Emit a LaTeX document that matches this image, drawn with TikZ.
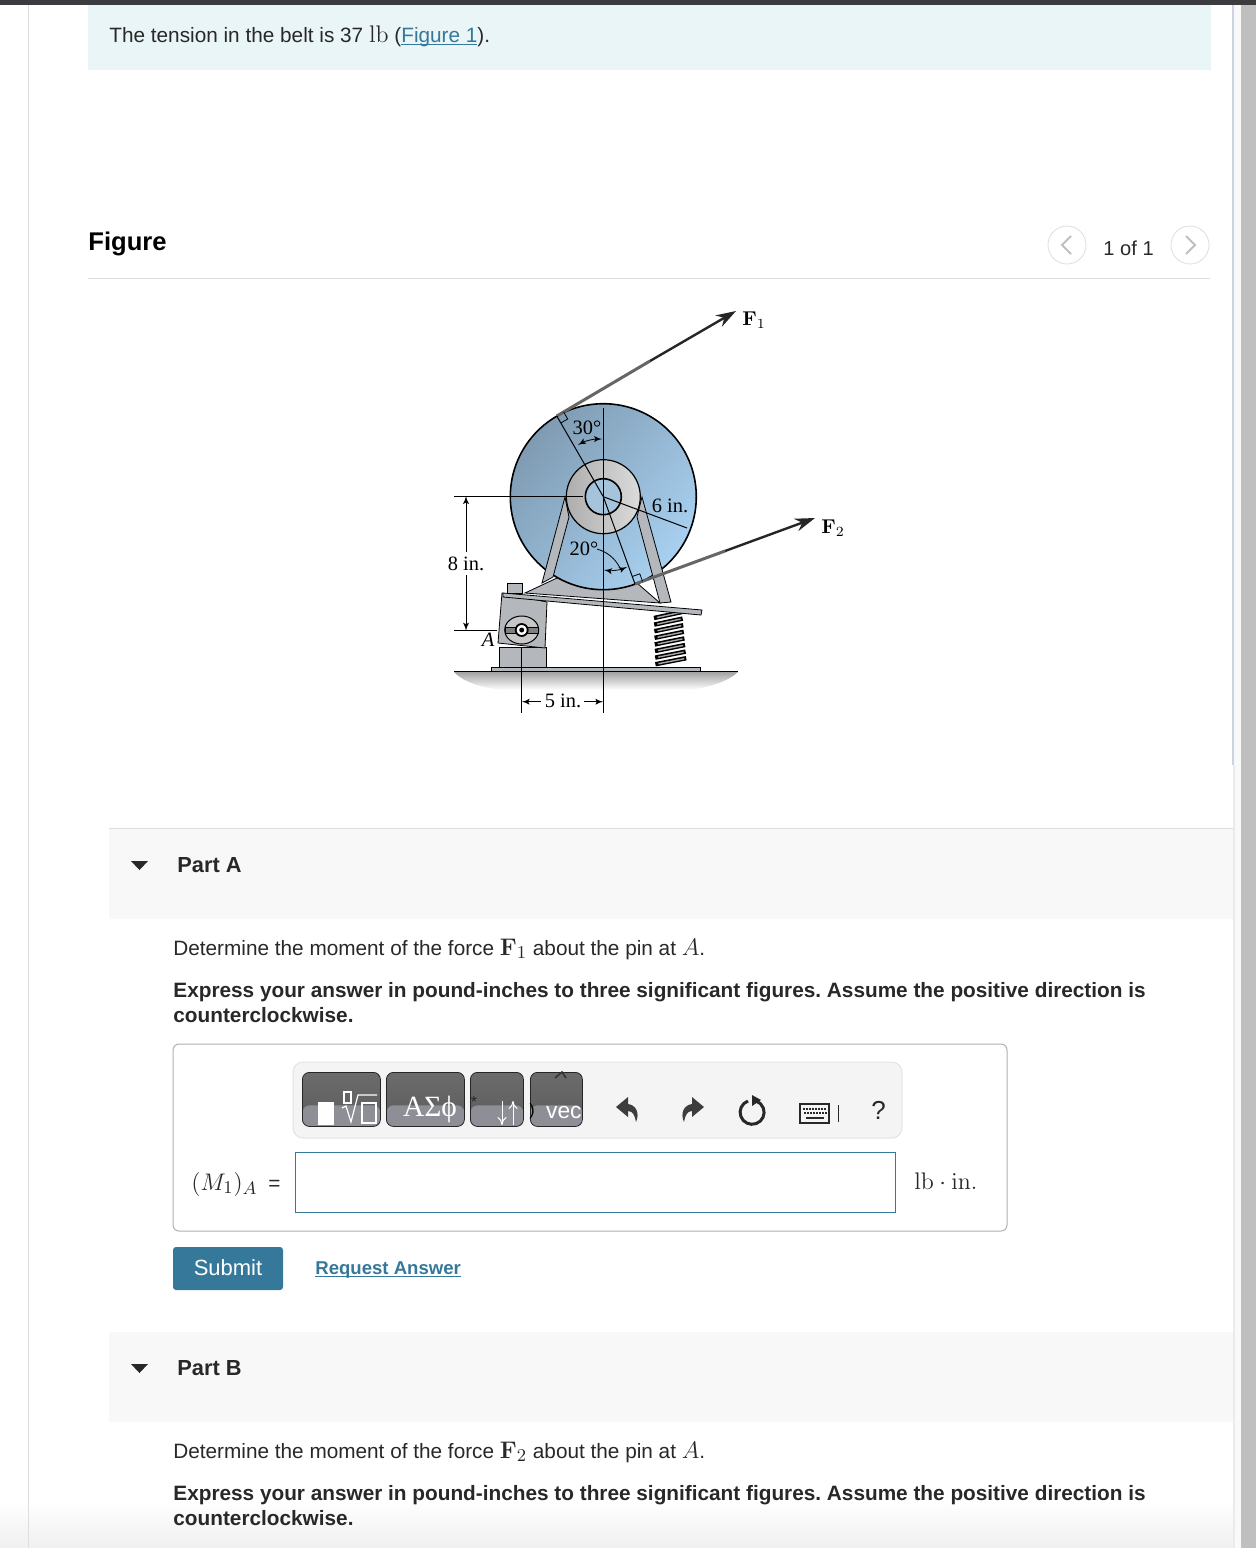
\documentclass[tikz,border=0pt]{standalone}
\usepackage[no-math]{fontspec}
\setmainfont{Liberation Sans}
\newfontfamily\figfont{Liberation Serif}
\usetikzlibrary{arrows, arrows.meta}
\definecolor{linkblue}{HTML}{35789A}
\definecolor{ink}{HTML}{282828}
\definecolor{band}{HTML}{F8F8F8}
\definecolor{rulegray}{HTML}{DEDEDE}
\definecolor{metal}{HTML}{B4B8BC}
\definecolor{belt}{HTML}{666666}
\definecolor{infobox}{HTML}{E9F5F7}
\definecolor{topbar}{HTML}{3C3C40}
\definecolor{strip}{HTML}{F9F9F9}
\definecolor{edgeblue}{HTML}{CBD3E2}
\definecolor{boxline}{HTML}{B0B0B0}
\definecolor{toolbg}{HTML}{F4F4F4}
\definecolor{btnlow}{HTML}{8E8E96}
\definecolor{discdark}{HTML}{7F9BB2}
\definecolor{disclight}{HTML}{A8D0F0}
\definecolor{boreblue}{HTML}{A5C3DB}
\tikzset{
  txt/.style={anchor=base west, inner sep=0pt, text=ink},
  figtxt/.style={inner sep=0pt, text=black},
  toolbtn/.style={
    draw=black!85,
    rounded corners=3.5pt,
    minimum height=27pt,
    inner sep=0pt,
    anchor=north west,
    top color=black!58,
    bottom color=black!64,
    path picture={\fill[btnlow] ([yshift=-16.5pt]path picture bounding box.north west) rectangle (path picture bounding box.south east);}
  },
  part/.style={fill=band, draw=none},
  navbtn/.style={circle, draw=rulegray, fill=white, minimum size=19pt, inner sep=0pt},
  metalpart/.style={draw=black, line width=0.4pt, fill=metal},
  dimline/.style={draw=black, line width=0.4pt},
  forceline/.style={line width=1.5pt, draw=belt},
  forcetip/.style={line width=1.2pt, draw=black!85, -{Stealth[length=10pt, width=6.5pt]}}
}
\tikzstyle{arrow} = [->, > = latex']
\def\body#1{\frenchspacing\fontsize{10.38}{12}\selectfont #1}
\def\bold#1{\frenchspacing\fontsize{10.39}{12}\selectfont\bfseries #1}
\def\fig#1{\figfont\fontsize{10.2}{12}\selectfont #1}
\def\mth#1{{\fontsize{13}{12}\selectfont$#1$}}

\begin{document}
\begin{tikzpicture}[x=0.5pt, y=-0.5pt]
    \useasboundingbox (0,0) rectangle (1256,1548);
    \fill[white] (0,0) rectangle (1256,1548);
    \shade[top color=white, bottom color=black!6] (0,1500) rectangle (1241,1548);
    \fill[black!13] (28,5) rectangle (29,1548);
    \fill[strip] (1234,5) rectangle (1241,1548);
    \fill[black!8] (1233,765) rectangle (1235,1548);
    \fill[edgeblue] (1232,5) rectangle (1234,765);
    \fill[black!25] (1241,5) rectangle (1256,1548);
    \fill[topbar] (0,0) rectangle (1256,5);

    \fill[infobox] (88,5) rectangle (1211,70);
    \node[txt] (intro) at (109,42) {\body{The tension in the belt is 37 \mth{\mathrm{lb}} (\textcolor{linkblue}{\underline{\smash{Figure 1}}}).}};

    \node[txt, text=black] (figtitle) at (88,250) {\fontsize{12.8}{14}\selectfont\bfseries Figure};
    \fill[rulegray] (88,278) rectangle (1210,279);
    \node[navbtn] (prev) at (1067,245) {};
    \node[navbtn] (next) at (1190,245) {};
    \draw[black!25, line width=1pt] (1071,236) -- (1062,245) -- (1071,254);
    \draw[black!25, line width=1pt] (1186,236) -- (1195,245) -- (1186,254);
    \node[txt] (pager) at (1103,255) {\fontsize{10.05}{12}\selectfont 1 of 1};

    \shade[top color=black!36, bottom color=white] (454,672) -- (738,672) .. controls (725,684) and (700,690) .. (680,690) -- (510,690) .. controls (490,690) and (465,684) .. (454,672) -- cycle;
    \draw[metalpart] (499,647) rectangle (546,667);
    \draw[metalpart] (502,593) -- (547,602) -- (545,648) -- (498,643) -- cycle;
    \draw[metalpart] (507,583) rectangle (522,593);
    \draw[metalpart] (491,667) rectangle (700,671.7);
    \draw[black, line width=0.5pt] (454,671.7) -- (738,671.7);
    \draw[metalpart] (525,593) -- (557,578) -- (637,583) -- (660,603) -- cycle;
    \foreach \y in {0,1,...,7}
      \draw[black, line width=2.2pt] (654+\y*0.2,618+\y*6.6) -- (682+\y*0.6,612+\y*6.6);
    \foreach \y in {0,1,...,7}
      \draw[black!35, line width=0.7pt] (657+\y*0.2,617.5+\y*6.6) -- (680+\y*0.6,612.5+\y*6.6);

    \node[circle, draw=black, line width=0.8pt, minimum size=93pt, inner sep=0pt, outer sep=0pt, left color=discdark, right color=disclight, shading angle=50] (disc) at (603.3,496.7) {};

    \coordinate (t1) at (556.8,416);
    \coordinate (t2) at (635,584);
    \coordinate (f1mid) at (650,361);
    \coordinate (f2mid) at (725,551);
    \coordinate (f1tip) at (736,311);
    \coordinate (f2tip) at (815,518);

    \draw[metalpart] (565,497) -- (542,583) -- (553,577) -- (569,517) -- cycle;
    \draw[metalpart] (642,497) -- (671,602) -- (660,603) -- (637,517) -- cycle;
    \draw[metalpart] (503,593) -- (702,610) -- (701,615) -- (503,597) -- cycle;
    \node[circle, draw=black, line width=0.6pt, minimum size=37pt, inner sep=0pt, left color=black!32, right color=black!14] (hub) at (603.3,496.7) {};
    \node[circle, draw=black, line width=0.8pt, minimum size=18pt, inner sep=0pt, fill=boreblue] (bore) at (603.3,496.7) {};

    \draw[black, line width=0.5pt, fill=black!22] (521.7,630) ellipse (17 and 14);
    \draw[black, line width=0.5pt, fill=black!50] (505,627) rectangle (538,633);
    \node[circle, draw=black, line width=0.9pt, fill=white, minimum size=6pt, inner sep=0pt] (pin) at (521.7,630) {};
    \fill[black] (pin) circle (2.5);

    \draw[forceline] (t1) -- (f1mid);
    \draw[forceline] (t2) -- (f2mid);
    \draw[forcetip] (f1mid) -- (f1tip);
    \draw[forcetip] (f2mid) -- (f2tip);
    \draw[black, line width=0.5pt] (603.3,496.7) -- (t1);
    \draw[black, line width=0.5pt] (603.3,496.7) -- (t2);
    \draw[black, line width=0.5pt] (disc.center) -- (687,528);
    \draw[black, line width=0.4pt] (560.8,423) -- (567.7,419) -- (563.7,412);
    \draw[black, line width=0.4pt] (632.3,576.5) -- (639.8,573.8) -- (642.5,581.3);
    \draw[dimline] (603.3,408) -- (603.3,713);
    \draw[dimline] (521.7,647) -- (521.7,713);
    \draw[dimline] (454,496) -- (583,496);
    \draw[dimline] (454,630.7) -- (497,630.7);
    \coordinate (dimtop) at (466,496);
    \coordinate (dimlow) at (466,630.7);
    \draw[dimline, arrow] (466,552) -- (dimtop);
    \draw[dimline, arrow] (466,575) -- (dimlow);
    \draw[dimline, arrow] (541,701.7) -- (521.7,701.7);
    \draw[dimline, arrow] (584,701.7) -- (603.3,701.7);
    \draw[dimline, <->, > = latex'] (578,445) .. controls (585,441) and (593,439) .. (602,439);
    \draw[dimline, <->, > = latex'] (604,570) .. controls (611,571) and (620,570) .. (627,567);
    \draw[dimline] (597,549) .. controls (607,552) and (615,558) .. (620,568);

    \node[figtxt] (lab30) at (587,428) {\fig{30°}};
    \node[figtxt] (lab20) at (584,549) {\fig{20°}};
    \node[figtxt] (lab6) at (670,506) {\fig{6 in.}};
    \node[figtxt, fill=white, inner xsep=1pt] (lab8) at (466,563.5) {\fig{8 in.}};
    \node[figtxt] (lab5) at (563,701) {\fig{5 in.}};
    \node[figtxt] (labA) at (488,640) {\fig{\itshape A}};
    \node[figtxt] (labF1) at (754,320) {\fontsize{10}{12}\selectfont$\mathbf{F}_1$};
    \node[figtxt] (labF2) at (833,528) {\fontsize{10}{12}\selectfont$\mathbf{F}_2$};

    \fill[part] (109,828) rectangle (1233,919);
    \fill[rulegray] (109,828) rectangle (1233,829);
    \fill[ink] (131,861) -- (148,861) -- (139.5,870) -- cycle;
    \node[txt] (parta) at (177,872.5) {\fontsize{10.9}{13}\selectfont\bfseries Part A};
    \node[txt] (qa) at (173,955) {\body{Determine the moment of the force \mth{\mathbf{F}_1} about the pin at \mth{A}.}};
    \node[txt] (expa) at (173,997) {\bold{Express your answer in pound-inches to three significant figures. Assume the positive direction is}};
    \node[txt] (expb) at (173,1022) {\bold{counterclockwise.}};

    \draw[boxline, line width=0.5pt, rounded corners=3pt] (173,1044) rectangle (1007,1231);
    \draw[black!11, fill=toolbg, line width=0.5pt, rounded corners=5pt] (293,1062) rectangle (902,1138);

    \node[toolbtn, minimum width=39pt] (rootbtn) at (302,1072) {};
    \node[toolbtn, minimum width=39pt] (greekbtn) at (386,1072) {};
    \node[toolbtn, minimum width=26.5pt] (arrowbtn) at (470,1072) {};
    \node[toolbtn, minimum width=26pt] (vecbtn) at (530,1072) {};
    \fill[white] (318,1102) rectangle (334,1125);
    \draw[white, line width=0.6pt] (342,1108) -- (346,1106) -- (351,1122) -- (358,1095) -- (377,1095);
    \draw[white, line width=0.6pt] (344,1092) rectangle (351,1103);
    \draw[white, line width=0.6pt] (362,1103) rectangle (376,1123);
    \node[figtxt, text=white] (greek) at (430,1109) {\figfont\fontsize{14.7}{15}\selectfont ΑΣϕ};
    \draw[white, line width=0.5pt, -{To[length=4pt, width=4.5pt]}] (502,1101) -- (502,1125);
    \draw[white, line width=0.5pt, -{To[length=4pt, width=4.5pt]}] (513,1125) -- (513,1101);
    \node[figtxt, text=white, anchor=base east] (vec) at (582,1118) {\fontsize{11.4}{13}\selectfont vec};
    \node[figtxt, text=ink] (star) at (474,1102) {\fontsize{8}{9}\selectfont *};
    \node[figtxt, text=black] (paren) at (532,1111) {\fontsize{8}{9}\selectfont )};
    \draw[black!80, line width=0.8pt] (555,1078) -- (562,1072) -- (566,1078);

    \fill[ink!90] (616,1107) -- (628,1097) -- (628,1104) .. controls (636,1105) and (640,1113) .. (636,1122) .. controls (635,1116) and (633,1111) .. (628,1111) -- (628,1117) -- cycle;
    \fill[ink!90] (704,1107) -- (692,1097) -- (692,1104) .. controls (684,1105) and (680,1113) .. (684,1122) .. controls (685,1116) and (687,1111) .. (692,1111) -- (692,1117) -- cycle;
    \draw[ink, line width=1.5pt] (748,1101) arc[start angle=-110, end angle=-430, radius=12];
    \fill[ink] (752,1095) -- (761,1100) -- (752,1106) -- cycle;
    \draw[ink, line width=0.8pt, fill=toolbg] (800,1104) rectangle (829,1123);
    \foreach \x in {803,806,...,824} \fill[ink] (\x,1108) rectangle (\x+2,1110);
    \foreach \x in {804,807,...,825} \fill[ink] (\x,1112) rectangle (\x+2,1114);
    \fill[ink] (806,1117) rectangle (824,1119);
    \draw[ink, line width=0.5pt] (838.5,1105) -- (838.5,1122);
    \node[txt] (help) at (871,1119) {\fontsize{13}{14}\selectfont ?};

    \node[txt] (lhs) at (191,1190) {\fontsize{13.2}{14}\selectfont$(M_1)_A$};
    \node[txt] (eq) at (268,1190) {\body{=}};
    \draw[linkblue, line width=0.5pt, fill=white] (295,1152) rectangle (895,1212);
    \node[txt] (unit) at (914,1189) {\fontsize{12.4}{14}\selectfont$\mathrm{lb}\cdot\mathrm{in.}$};

    \fill[linkblue, rounded corners=1.5pt] (173,1247) rectangle (283,1290);
    \node[figtxt, text=white] (submit) at (228,1268) {\fontsize{11}{13}\selectfont Submit};
    \node[txt, text=linkblue] (request) at (315,1274) {\fontsize{9.28}{12}\selectfont\bfseries\underline{\smash{Request Answer}}};

    \fill[part] (109,1332) rectangle (1233,1422);
    \fill[ink] (131,1364) -- (148,1364) -- (139.5,1373) -- cycle;
    \node[txt] (partb) at (177,1375.5) {\fontsize{10.9}{13}\selectfont\bfseries Part B};
    \node[txt] (qb) at (173,1458) {\body{Determine the moment of the force \mth{\mathbf{F}_2} about the pin at \mth{A}.}};
    \node[txt] (expc) at (173,1500) {\bold{Express your answer in pound-inches to three significant figures. Assume the positive direction is}};
    \node[txt] (expd) at (173,1525) {\bold{counterclockwise.}};
\end{tikzpicture}
\end{document}
